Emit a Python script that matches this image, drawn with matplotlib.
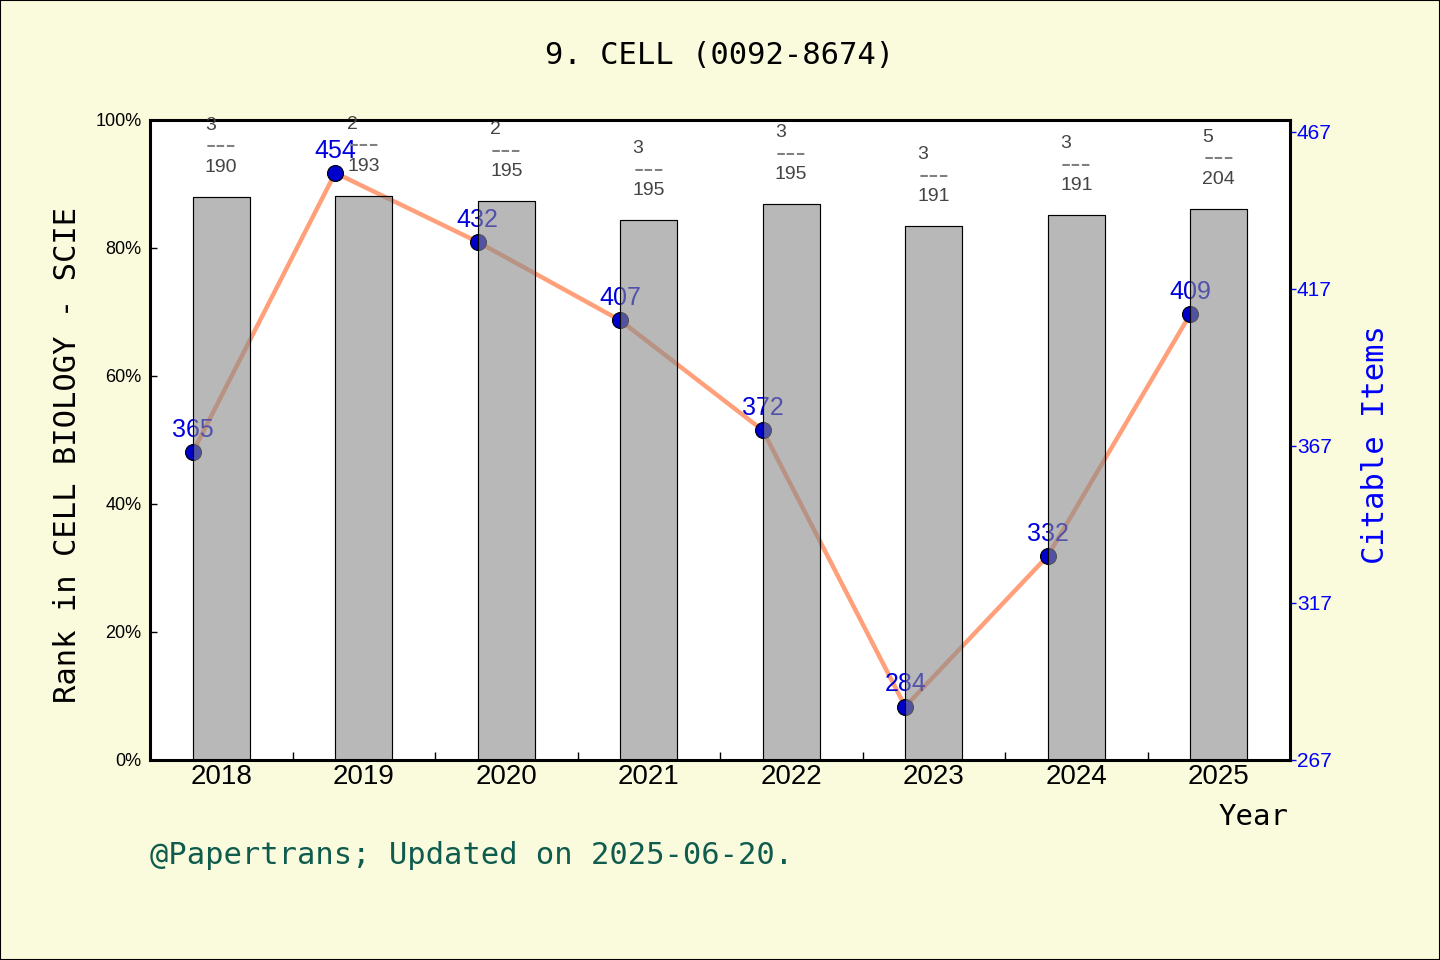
import matplotlib
matplotlib.use("Agg")
import matplotlib.pyplot as plt
from matplotlib.patches import Rectangle
from matplotlib import font_manager
import numpy as np

years = ["2018", "2019", "2020", "2021", "2022", "2023", "2024", "2025"]
rank_pct = [88.0, 88.2, 87.3, 84.3, 86.8, 83.4, 85.1, 86.1]
rank_num = [3, 2, 2, 3, 3, 3, 3, 5]
rank_tot = [190, 193, 195, 195, 195, 191, 191, 204]
citable = [365, 454, 432, 407, 372, 284, 332, 409]
right_ticks = [267, 317, 367, 417, 467]
left_ticks = [0, 20, 40, 60, 80, 100]

BG = "#fafadc"
MONO = ["DejaVu Sans Mono"]
SANS = ["Liberation Sans", "DejaVu Sans"]
names = {f.name for f in font_manager.fontManager.ttflist}
if "Liberation Sans Narrow" in names:
    NARROW = ["Liberation Sans Narrow", "DejaVu Sans"]
    year_fs, ltick_fs = 24, 16
else:
    NARROW = SANS
    year_fs, ltick_fs = 20, 13

fig = plt.figure(figsize=(14.4, 9.6), dpi=100, facecolor=BG)
ax = fig.add_axes([150/1440, 1-760/960, 1140/1440, 640/960])
ax2 = ax.twinx()
ax.set_zorder(ax2.get_zorder() + 1)
ax.patch.set_visible(False)
ax2.patch.set_visible(True)
ax2.patch.set_facecolor("white")

x = np.arange(len(years))

# line on back axis (right scale)
ax2.plot(x - 0.2, citable, color="#ffa07a", lw=3.2, marker="o", ms=11.5,
         mfc="#0000cd", mec="black", mew=0.8, zorder=3)
for xi, v in zip(x, citable):
    ax2.annotate(str(v), (xi - 0.2, v), xytext=(0, 11), textcoords="offset points",
                 ha="center", va="baseline", color="#0000dd", fontsize=18,
                 family=SANS, zorder=4)
ax2.set_ylim(267, 267 + 200 * 640 / 628)
ax2.set_yticks(right_ticks)
ax2.set_yticklabels([str(t) for t in right_ticks], family=SANS, fontsize=15, color="#0000ff")
ax2.tick_params(axis="y", direction="out", length=4, width=1, colors="#0000ff", pad=1)
for s in ax2.spines.values():
    s.set_visible(False)

# bars on front axis
ax.bar(x, rank_pct, width=0.4, color="#8a8a8a", alpha=0.6, edgecolor="black",
       linewidth=0.8, zorder=2)
ax.bar(x, rank_pct, width=0.4, color="none", edgecolor="black", linewidth=0.8, zorder=2.1)
for xi, h, n, t in zip(x, rank_pct, rank_num, rank_tot):
    bot = ax.annotate(str(t), (xi, h), xytext=(0, 18), textcoords="offset points",
                      ha="center", va="baseline", color="#444444",
                      fontsize=14, family=SANS, zorder=5)
    ax.annotate("---", xy=(0.5, 1), xycoords=bot, xytext=(0, 9),
                textcoords="offset points", ha="center", va="center",
                color="#808080", fontsize=22, family=SANS, zorder=5)
    ax.annotate(str(n), xy=(0, 1), xycoords=bot, xytext=(0, 18),
                textcoords="offset points", ha="left", va="bottom",
                color="#444444", fontsize=14, family=SANS, zorder=5)

ax.set_xlim(-0.5, len(years) - 0.5)
ax.set_ylim(0, 100)
ax.set_yticks(left_ticks)
ax.set_yticklabels([f"{t}%" for t in left_ticks], family=NARROW, fontsize=ltick_fs)
ax.tick_params(axis="y", direction="in", length=5, width=1, pad=6)
ax.set_xticks(x)
ax.set_xticklabels(years, family=NARROW, fontsize=year_fs)
ax.tick_params(axis="x", which="major", length=0, pad=3)
ax.set_xticks(x[:-1] + 0.5, minor=True)
ax.tick_params(axis="x", which="minor", direction="in", length=6, width=1)
for s in ax.spines.values():
    s.set_linewidth(2.2)
    s.set_color("black")

fig.text(0.5, 1 - 55/960, "9. CELL (0092-8674)", ha="center", va="center",
         family=MONO, fontsize=22, color="black")
fig.text(68/1440, 1 - 455/960, "Rank in CELL BIOLOGY - SCIE", rotation=90,
         ha="center", va="center", family=MONO, fontsize=22, color="black")
fig.text(1375/1440, 1 - 445/960, "Citable Items", rotation=90,
         ha="center", va="center", family=MONO, fontsize=22, color="#0000ff")
fig.text(1289/1440, 1 - 817/960, "Year", ha="right", va="center",
         family=MONO, fontsize=21, color="black")
fig.text(150/1440, 1 - 855/960, "@Papertrans; Updated on 2025-06-20.", ha="left",
         va="center", family=MONO, fontsize=22, color="#0f5c4f")

fig.patches.append(Rectangle((0, 0), 1, 1, transform=fig.transFigure, fill=False,
                             edgecolor="black", linewidth=1.5, zorder=10))

fig.savefig("out.png", dpi=100, facecolor=BG)
